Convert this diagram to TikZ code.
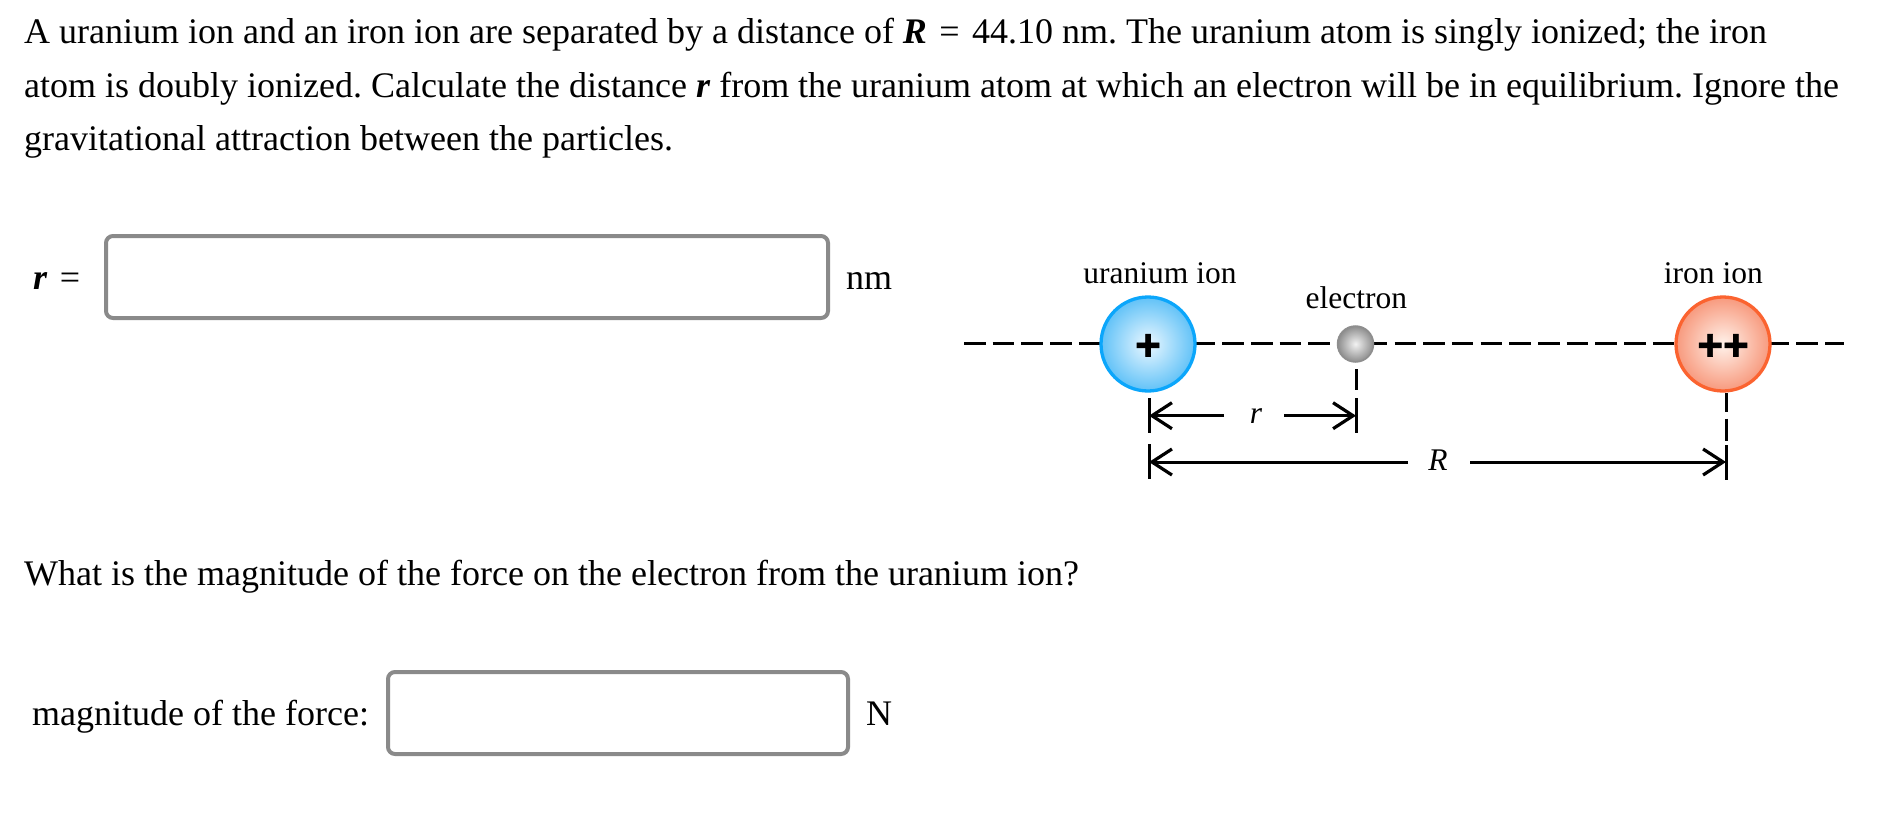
\documentclass[tikz,border=0pt]{standalone}
\usepackage{fontspec}
\setmainfont{Liberation Serif}
\newfontfamily\signfont[FakeBold=1.5]{Liberation Sans Bold}
\usetikzlibrary{positioning,arrows.meta}
\definecolor{boxgray}{HTML}{8A8A8A}
\definecolor{uraniumrim}{HTML}{0BA6FB}
\definecolor{ironrim}{HTML}{FB6330}
\definecolor{electronrim}{HTML}{8E8E8E}
\pgfdeclareradialshading{uraniumglow}{\pgfpointorigin}{rgb(0bp)=(0.92,0.97,1); rgb(25bp)=(0.38,0.76,0.97); rgb(50bp)=(0.38,0.76,0.97)}
\pgfdeclareradialshading{ironglow}{\pgfpointorigin}{rgb(0bp)=(1,0.95,0.92); rgb(25bp)=(0.97,0.60,0.49); rgb(50bp)=(0.97,0.60,0.49)}
\pgfdeclareradialshading{electronglow}{\pgfpointorigin}{rgb(0bp)=(0.95,0.95,0.95); rgb(25bp)=(0.55,0.55,0.55); rgb(50bp)=(0.55,0.55,0.55)}
\newcommand{\eqsign}{\hspace{3.5pt}=\hspace{3.5pt}}
\tikzset{
	qtext/.style={anchor=base west, inner sep=0pt, font=\fontsize{36}{40}\selectfont},
	difflabel/.style={anchor=base, inner sep=0pt, font=\fontsize{31.5}{36}\selectfont},
	answerbox/.style={draw=boxgray, line width=4pt, rounded corners=7pt, fill=white},
	ion/.style={circle, line width=3.3pt, inner sep=0pt, minimum size=94pt, text height=32pt, text depth=0pt, font=\signfont\fontsize{44}{44}\selectfont},
	axisline/.style={line width=3.3pt, dash pattern=on 21.5pt off 7.2pt},
	dimline/.style={line width=3pt, -{Straight Barb[length=20pt,width=26pt,line width=3.2pt]}},
	tick/.style={line width=3pt}
}
\begin{document}
\frenchspacing
\begin{tikzpicture}[x=1pt, y=-1pt]
	\useasboundingbox (0,0) rectangle (1884,832);
	\fill[white] (0,0) rectangle (1884,832);
	% question text
	\node (lineone) [qtext] at (24,44) {A uranium ion and an iron ion are separated by a distance of \textbf{\textit{R}} \eqsign{} 44.10 nm. The uranium atom is singly ionized; the iron};
	\node (linetwo) [qtext] at (24,98) {atom is doubly ionized. Calculate the distance \textbf{\textit{r}} from the uranium atom at which an electron will be in equilibrium. Ignore the};
	\node (linethree) [qtext] at (24,150) {gravitational attraction between the particles.};
	\node (rname) [qtext] at (33,289.5) {\textbf{\textit{r}} \eqsign{}};
	\draw[answerbox] (106,236) rectangle (828,318);
	\node (nmunit) [qtext] at (846,289.5) {nm};
	\node (linefour) [qtext] at (24,585) {What is the magnitude of the force on the electron from the uranium ion?};
	\node (forcename) [qtext] at (32,725.5) {magnitude of the force:};
	\draw[answerbox] (388,672) rectangle (848,754);
	\node (nunit) [qtext] at (866,725.5) {N};
	% axis behind the ions
	\coordinate (axisleft) at (964,343.5);
	\coordinate (axisright) at (1844,343.5);
	\draw[axisline] (axisleft) -- (axisright);
	\node (uranium) [ion, draw=uraniumrim, shading=uraniumglow] at (1148,344) {+};
	\node (electron) [circle, line width=1.5pt, draw=electronrim, shading=electronglow, inner sep=0pt, minimum size=36pt] at (1355.5,344) {};
	\node (iron) [ion, draw=ironrim, shading=ironglow] at (1723,344) {++};
	\node (uraniumname) [difflabel] at (1160,283) {uranium ion};
	\node (electronname) [difflabel] at (1356.3,308) {electron};
	\node (ironname) [difflabel] at (1713.3,283) {iron ion};
	% extension lines
	\coordinate (utickone) at (1149,398);
	\coordinate (uticktwo) at (1149,433);
	\coordinate (utickthree) at (1149,444);
	\coordinate (utickfour) at (1149,479);
	\coordinate (etop) at (1356,369);
	\coordinate (etickone) at (1356,398);
	\coordinate (eticktwo) at (1356,433);
	\coordinate (itop) at (1726,393);
	\coordinate (itickone) at (1726,445);
	\coordinate (iticktwo) at (1726,480);
	\draw[tick] (utickone) -- (uticktwo);
	\draw[tick] (utickthree) -- (utickfour);
	\draw[tick] (etop) -- ++(0,21);
	\draw[tick] (etickone) -- (eticktwo);
	\draw[tick, dash pattern=on 19pt off 6.5pt on 22pt off 5pt] (itop) -- (itickone);
	\draw[tick] (itickone) -- (iticktwo);
	% dimensions
	\node (rlabel) [difflabel] at (1256,423) {\textit{r}};
	\node (Rlabel) [difflabel] at (1438,470) {\textit{R}};
	\coordinate (rgapleft) at (1224,415.7);
	\coordinate (rgapright) at (1284,415.7);
	\coordinate (Rgapleft) at (1408,462);
	\coordinate (Rgapright) at (1470,462);
	\draw[dimline] (rgapleft) -- (1149,415.7);
	\draw[dimline] (rgapright) -- (1356,415.7);
	\draw[dimline] (Rgapleft) -- (1149,462);
	\draw[dimline] (Rgapright) -- (1726,462);
\end{tikzpicture}
\end{document}
